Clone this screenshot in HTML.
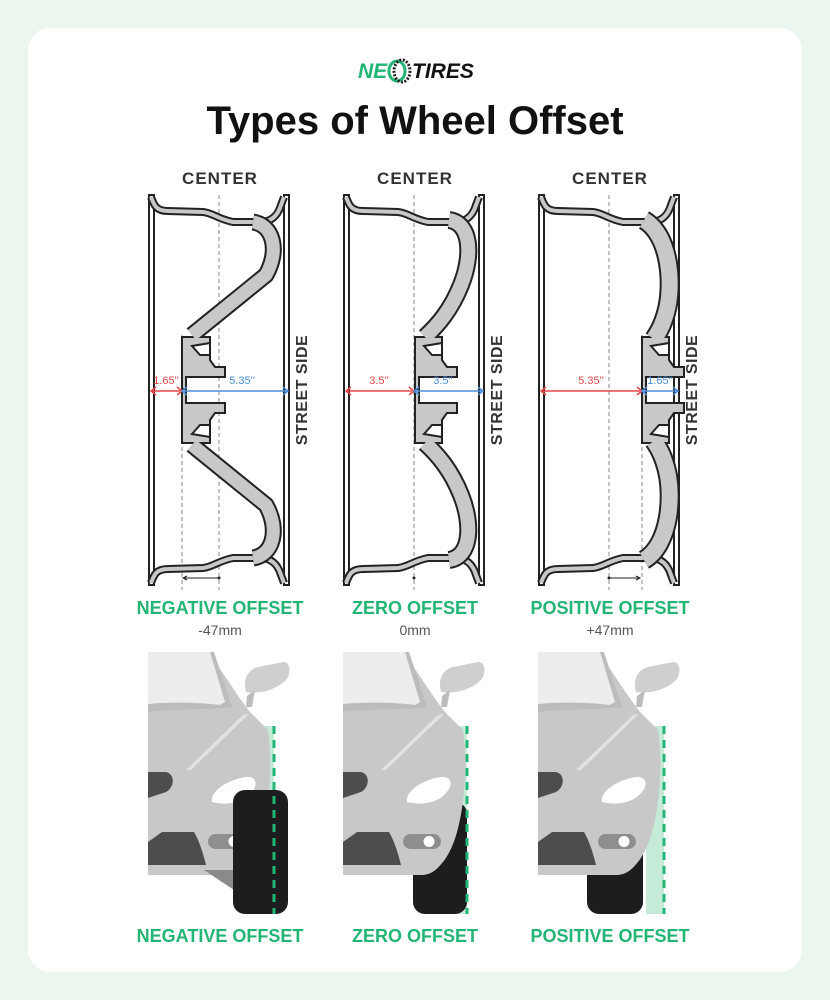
<!DOCTYPE html>
<html><head><meta charset="utf-8"><style>
html,body{margin:0;padding:0;background:#eaf6ee;}
svg{display:block;font-family:"Liberation Sans",sans-serif;}
</style></head><body>
<svg width="830" height="1000" viewBox="0 0 830 1000" xmlns="http://www.w3.org/2000/svg">
<defs>
<clipPath id="cc"><rect x="0" y="0" width="145" height="262"/></clipPath>
<g id="barrel">
  <path d="M3,2 C6,10 8,16 20,16 L55,17 C65,18 70,24 85,27 L112,27 C124,27 130,20 133,10 L136,2" fill="none" stroke="#222" stroke-width="8" stroke-linejoin="round"/>
  <path d="M3,2 C6,10 8,16 20,16 L55,17 C65,18 70,24 85,27 L112,27 C124,27 130,20 133,10 L136,2" fill="none" stroke="#c8c8c8" stroke-width="4" stroke-linejoin="round"/>
</g>
<g id="car">
  <path d="M0,0 L60,0 C75,20 90,45 102,60 L120,78 C123,100 123,120 121,140 C118,170 112,195 100,210 C95,216 90,222 80,223 L0,223 Z" fill="#c8c8c8"/>
  <path d="M0,0 L66,0 L84,55 C60,58 20,57 0,60 Z" fill="#bcbcbc"/>
  <path d="M0,0 L62,0 L77,50 L72,53 C50,50 20,50 0,52 Z" fill="#ededed"/>
  <polygon points="95,63 101,62 43,118 38,118" fill="#e2e2e2"/>
  <path d="M0,120 L18,120 C27,122 27,135 18,140 L0,146 Z" fill="#4d4d4d"/>
  <path d="M64,150 C62,140 78,128 98,125 C110,124 110,135 102,142 C95,150 80,154 64,150 Z" fill="#fff"/>
  <path d="M14,180 L46,180 C52,190 56,205 58,213 L0,213 L0,190 Z" fill="#4d4d4d"/>
  <rect x="60" y="182" width="38" height="15" rx="7.5" fill="#8e8e8e"/>
  <circle cx="86" cy="189.5" r="5.5" fill="#fff"/>
  <path d="M98,40 C95,30 98,18 110,15 L135,10 C143,10 143,22 138,28 C128,38 112,42 98,40 Z" fill="#cfcfcf"/>
  <polygon points="99,44 107,38 104,55 98,55" fill="#bdbdbd"/>
</g>
</defs>
<rect x="28" y="28" width="774" height="944" rx="22" fill="#fff"/>

<!-- logo -->
<text x="358" y="78" font-size="21" font-weight="bold" font-style="italic" fill="#22b573">NE</text>
<ellipse cx="397" cy="71" rx="8" ry="10" fill="#fff" stroke="#22b573" stroke-width="3"/>
<ellipse cx="402" cy="71" rx="8" ry="11" fill="none" stroke="#222" stroke-width="3" stroke-dasharray="2 1.5"/>
<text x="412" y="78" font-size="21" font-weight="bold" font-style="italic" fill="#111">TIRES</text>

<text x="415" y="134" font-size="40" font-weight="bold" text-anchor="middle" fill="#111">Types of Wheel Offset</text>

<g font-size="17" font-weight="bold" fill="#333" text-anchor="middle" letter-spacing="1">
<text x="220" y="184">CENTER</text><text x="415" y="184">CENTER</text><text x="610" y="184">CENTER</text>
</g>

<!-- wheel NEG -->
<g transform="translate(148,195)">
  <line x1="71" y1="0" x2="71" y2="395" stroke="#888" stroke-dasharray="4 3"/>
  <line x1="34" y1="140" x2="34" y2="395" stroke="#888" stroke-dasharray="4 3"/>
  <rect x="1" y="0" width="5" height="390" fill="#fff" stroke="#222" stroke-width="2"/>
  <rect x="136" y="0" width="5" height="390" fill="#fff" stroke="#222" stroke-width="2"/>
  <g id="wn">
    <use href="#barrel"/>
    <path d="M105,27 C125,30 132,55 118,80 L44,140" fill="none" stroke="#222" stroke-width="17" stroke-linejoin="round"/>
    <polygon points="34,142 62,142 62,165 67,172 77,172 77,182 38,182 38,196 34,196" fill="#c8c8c8" stroke="#222" stroke-width="2"/>
    <path d="M105,27 C125,30 132,55 118,80 L44,140" fill="none" stroke="#c8c8c8" stroke-width="13" stroke-linejoin="round"/>
    <polygon points="62,148 44,151 52,160 62,160" fill="#fff" stroke="#222" stroke-width="2"/>
  </g>
  <use href="#wn" transform="translate(0,390) scale(1,-1)"/>
  <line x1="4" y1="196" x2="32" y2="196" stroke="#e8474a" stroke-width="1.5"/>
  <path d="M8,192 L3,196 L8,200 M29,192 L34,196 L29,200" fill="none" stroke="#e8474a" stroke-width="1.5"/>
  <line x1="36" y1="196" x2="139" y2="196" stroke="#4a8fe0" stroke-width="1.5"/>
  <path d="M39,192 L34,196 L39,200 M135,192 L140,196 L135,200" fill="none" stroke="#4a8fe0" stroke-width="1.5"/>
  <text x="18" y="189" font-size="11" fill="#e8474a" text-anchor="middle">1.65''</text>
  <text x="94" y="189" font-size="11" fill="#4a8fe0" text-anchor="middle">5.35''</text>
  <line x1="36" y1="383" x2="71" y2="383" stroke="#222"/>
  <path d="M39,381 L35,383 L39,385" fill="none" stroke="#222"/><circle cx="71" cy="383" r="1.5" fill="#222"/>
  <text transform="translate(159,195) rotate(-90)" font-size="16" font-weight="bold" fill="#333" text-anchor="middle" letter-spacing="0.5">STREET SIDE</text>
</g>

<!-- wheel ZERO -->
<g transform="translate(343,195)">
  <line x1="71" y1="0" x2="71" y2="395" stroke="#888" stroke-dasharray="4 3"/>
  <rect x="1" y="0" width="5" height="390" fill="#fff" stroke="#222" stroke-width="2"/>
  <rect x="136" y="0" width="5" height="390" fill="#fff" stroke="#222" stroke-width="2"/>
  <g id="wz">
    <use href="#barrel"/>
    <path d="M106,25 C128,28 130,60 118,90 C108,115 95,130 82,142" fill="none" stroke="#222" stroke-width="18" stroke-linejoin="round"/>
    <polygon points="72,142 99,142 99,165 104,172 114,172 114,182 76,182 76,196 72,196" fill="#c8c8c8" stroke="#222" stroke-width="2"/>
    <path d="M106,25 C128,28 130,60 118,90 C108,115 95,130 82,142" fill="none" stroke="#c8c8c8" stroke-width="14" stroke-linejoin="round"/>
    <polygon points="99,148 81,151 89,160 99,160" fill="#fff" stroke="#222" stroke-width="2"/>
  </g>
  <use href="#wz" transform="translate(0,390) scale(1,-1)"/>
  <line x1="4" y1="196" x2="69" y2="196" stroke="#e8474a" stroke-width="1.5"/>
  <path d="M8,192 L3,196 L8,200 M66,192 L71,196 L66,200" fill="none" stroke="#e8474a" stroke-width="1.5"/>
  <line x1="73" y1="196" x2="139" y2="196" stroke="#4a8fe0" stroke-width="1.5"/>
  <path d="M76,192 L71,196 L76,200 M135,192 L140,196 L135,200" fill="none" stroke="#4a8fe0" stroke-width="1.5"/>
  <text x="36" y="189" font-size="11" fill="#e8474a" text-anchor="middle">3.5''</text>
  <text x="100" y="189" font-size="11" fill="#4a8fe0" text-anchor="middle">3.5''</text>
  <circle cx="71" cy="383" r="1.5" fill="#222"/>
  <text transform="translate(159,195) rotate(-90)" font-size="16" font-weight="bold" fill="#333" text-anchor="middle" letter-spacing="0.5">STREET SIDE</text>
</g>

<!-- wheel POS -->
<g transform="translate(538,195)">
  <line x1="71" y1="0" x2="71" y2="395" stroke="#888" stroke-dasharray="4 3"/>
  <line x1="104" y1="140" x2="104" y2="395" stroke="#888" stroke-dasharray="4 3"/>
  <rect x="1" y="0" width="5" height="390" fill="#fff" stroke="#222" stroke-width="2"/>
  <rect x="136" y="0" width="5" height="390" fill="#fff" stroke="#222" stroke-width="2"/>
  <g id="wp">
    <use href="#barrel"/>
    <path d="M106,25 C132,40 136,90 128,118 C124,132 120,138 116,144" fill="none" stroke="#222" stroke-width="20" stroke-linejoin="round"/>
    <polygon points="104,142 131,142 131,165 136,172 146,172 146,182 108,182 108,196 104,196" fill="#c8c8c8" stroke="#222" stroke-width="2"/>
    <path d="M106,25 C132,40 136,90 128,118 C124,132 120,138 116,144" fill="none" stroke="#c8c8c8" stroke-width="16" stroke-linejoin="round"/>
    <polygon points="131,148 113,151 121,160 131,160" fill="#fff" stroke="#222" stroke-width="2"/>
  </g>
  <use href="#wp" transform="translate(0,390) scale(1,-1)"/>
  <line x1="4" y1="196" x2="102" y2="196" stroke="#e8474a" stroke-width="1.5"/>
  <path d="M8,192 L3,196 L8,200 M99,192 L104,196 L99,200" fill="none" stroke="#e8474a" stroke-width="1.5"/>
  <line x1="106" y1="196" x2="139" y2="196" stroke="#4a8fe0" stroke-width="1.5"/>
  <path d="M109,192 L104,196 L109,200 M135,192 L140,196 L135,200" fill="none" stroke="#4a8fe0" stroke-width="1.5"/>
  <text x="53" y="189" font-size="11" fill="#e8474a" text-anchor="middle">5.35''</text>
  <text x="122" y="189" font-size="11" fill="#4a8fe0" text-anchor="middle">1.65''</text>
  <line x1="71" y1="383" x2="102" y2="383" stroke="#222"/>
  <path d="M98,381 L102,383 L98,385" fill="none" stroke="#222"/><circle cx="71" cy="383" r="1.5" fill="#222"/>
  <text transform="translate(159,195) rotate(-90)" font-size="16" font-weight="bold" fill="#333" text-anchor="middle" letter-spacing="0.5">STREET SIDE</text>
</g>

<g font-size="18" font-weight="bold" fill="#22b573" text-anchor="middle">
<text x="220" y="614">NEGATIVE OFFSET</text><text x="415" y="614">ZERO OFFSET</text><text x="610" y="614">POSITIVE OFFSET</text>
<text x="220" y="942">NEGATIVE OFFSET</text><text x="415" y="942">ZERO OFFSET</text><text x="610" y="942">POSITIVE OFFSET</text>
</g>
<g font-size="14" fill="#555" text-anchor="middle">
<text x="220" y="635">-47mm</text><text x="415" y="635">0mm</text><text x="610" y="635">+47mm</text>
</g>

<!-- cars -->
<g transform="translate(148,652)" clip-path="url(#cc)">
  <rect x="110" y="74" width="16" height="70" fill="#c5ebd8"/>
  <use href="#car"/>
  <polygon points="56,218 86,218 86,238" fill="#8a8a8a"/>
  <rect x="85" y="138" width="55" height="124" rx="12" fill="#1d1d1f"/>
  <line x1="126" y1="74" x2="126" y2="262" stroke="#22b573" stroke-width="3" stroke-dasharray="8 6"/>
</g>
<g transform="translate(343,652)" clip-path="url(#cc)">
  <rect x="110" y="74" width="14" height="188" fill="#c5ebd8"/>
  <rect x="70" y="150" width="54" height="112" rx="12" fill="#1d1d1f"/>
  <use href="#car"/>
  <line x1="124" y1="74" x2="124" y2="262" stroke="#22b573" stroke-width="3" stroke-dasharray="8 6"/>
</g>
<g transform="translate(538,652)" clip-path="url(#cc)">
  <rect x="108" y="74" width="18" height="188" fill="#c5ebd8"/>
  <rect x="49" y="190" width="56" height="72" rx="12" fill="#1d1d1f"/>
  <use href="#car"/>
  <line x1="126" y1="74" x2="126" y2="262" stroke="#22b573" stroke-width="3" stroke-dasharray="8 6"/>
</g>
</svg>
</body></html>
